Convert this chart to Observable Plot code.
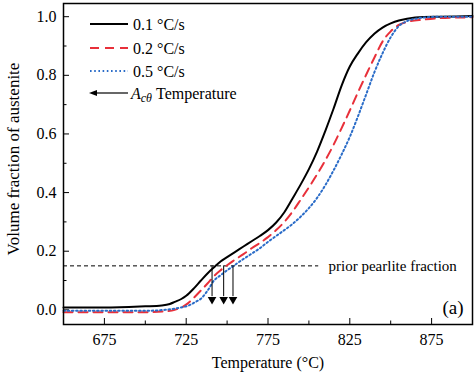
<!DOCTYPE html>
<html>
<head>
<meta charset="utf-8">
<script src="https://cdn.jsdelivr.net/npm/d3@7"></script>
<script src="https://cdn.jsdelivr.net/npm/@observablehq/plot@0.6"></script>
<style>
  html, body { margin: 0; padding: 0; background: white; }
  #wrap { position: relative; width: 474px; height: 380px; }
  #legend { position: absolute; left: 0; top: 0; }
</style>
</head>
<body>
<div id="wrap"></div>
<script>
// ---- data ----
const T1 = [650,670,690,700,710,715,718,722,725,730,734,738,742,746,750,755,760,765,770,775,780,785,790,795,800,805,810,815,820,825,830,835,840,845,850,855,860,870,880,900];
const V1 = [0.008,0.008,0.01,0.012,0.015,0.02,0.027,0.037,0.048,0.075,0.1,0.124,0.145,0.165,0.18,0.198,0.216,0.234,0.252,0.272,0.298,0.333,0.38,0.428,0.48,0.54,0.61,0.685,0.765,0.83,0.875,0.913,0.942,0.963,0.977,0.987,0.993,0.999,1.0,1.002];

const T2 = [650,700,712,718,722,726,730,734,738,742,746,750,754,760,765,770,775,780,785,790,795,800,805,810,815,820,825,830,835,840,845,850,855,860,870,880,900];
const V2 = [-0.008,-0.008,-0.005,0.0,0.008,0.022,0.043,0.066,0.09,0.115,0.135,0.152,0.168,0.19,0.21,0.228,0.248,0.272,0.3,0.335,0.376,0.418,0.462,0.51,0.562,0.62,0.68,0.742,0.802,0.86,0.915,0.95,0.972,0.982,0.99,0.995,0.998];

const T3 = [650,700,712,718,722,727,731,734,738,742,746,750,754,758,764,770,775,780,785,790,795,800,805,810,815,820,825,830,835,840,845,850,855,860,870,880,900];
const V3 = [-0.003,-0.003,0.0,0.004,0.008,0.016,0.028,0.038,0.065,0.1,0.118,0.135,0.15,0.166,0.188,0.21,0.232,0.252,0.272,0.293,0.318,0.347,0.382,0.425,0.475,0.53,0.59,0.66,0.735,0.81,0.875,0.93,0.968,0.985,0.997,1.0,1.0];

const seriesNames = ["0.1 °C/s", "0.2 °C/s", "0.5 °C/s"];
const seriesColors = ["#000000", "#e8303a", "#2a6cc8"];
const seriesDash = [null, "9,6", "1.6,2.6"];

const acTemps = [740.8, 747.9, 753.6];   // Ac0 temperatures (arrows)
const acTop = 0.15;
const acBottom = 0.025;
const pearliteFraction = 0.15;
const pearliteEndT = 806;
const pearliteLabelT = 812;
const pearliteLabel = "prior pearlite fraction";

const xMajor = [675, 725, 775, 825, 875];
const xMinor = [700, 750, 800, 850];
const yMajor = [0, 0.2, 0.4, 0.6, 0.8, 1.0];
const yMinor = [0.1, 0.3, 0.5, 0.7, 0.9];

const xLabel = "Temperature (°C)";
const yLabel = "Volume fraction of austenite";
const panelLabel = "(a)";

// ---- build ----
const rows = [];
[[T1, V1], [T2, V2], [T3, V3]].forEach(([T, V], i) => {
  T.forEach((t, j) => rows.push({t, v: V[j], s: seriesNames[i]}));
});

const W = 474, H = 380;
const mL = 63, mR = 2, mT = 3, mB = 56;
const plotW = W - mL - mR, plotH = H - mT - mB;
const serif = "'Liberation Serif', 'Times New Roman', serif";

const chart = Plot.plot({
  width: W, height: H,
  marginLeft: mL, marginRight: mR, marginTop: mT, marginBottom: mB,
  style: {fontFamily: serif, fontSize: "16px", background: "white", color: "black"},
  x: {domain: [650, 900], ticks: xMajor, tickSize: 0, tickPadding: 9, label: null, tickFormat: d => String(d)},
  y: {domain: [-0.05, 1.045], ticks: yMajor, tickSize: 0, tickPadding: 7, label: null, tickFormat: d3.format(".1f")},
  marks: [
    Plot.tickX(xMajor, {x: d => d, insetTop: plotH - 6, stroke: "black", strokeWidth: 1}),
    Plot.tickX(xMinor, {x: d => d, insetTop: plotH - 3.5, stroke: "black", strokeWidth: 1}),
    Plot.tickY(yMajor, {y: d => d, insetRight: plotW - 6, stroke: "black", strokeWidth: 1}),
    Plot.tickY(yMinor, {y: d => d, insetRight: plotW - 3.5, stroke: "black", strokeWidth: 1}),
    Plot.ruleY([pearliteFraction], {x1: 650, x2: pearliteEndT, stroke: "black", strokeWidth: 1, strokeDasharray: "4,3"}),
    Plot.text([pearliteLabel], {x: pearliteLabelT, y: pearliteFraction, textAnchor: "start", fontSize: 15, fill: "black"}),
    ...seriesNames.map((name, i) => Plot.line(rows.filter(r => r.s === name), {
      x: "t", y: "v", stroke: seriesColors[i], strokeWidth: 2,
      strokeDasharray: seriesDash[i], curve: "monotone-x"
    })),
    Plot.ruleX(acTemps, {x: d => d, y1: acTop, y2: acBottom + 0.02, stroke: "black", strokeWidth: 1}),
    Plot.dot(acTemps, {x: d => d, y: acBottom + 0.01, symbol: "triangle", r: 3.2, rotate: 180, fill: "black", stroke: "none"}),
    Plot.frame({stroke: "black", strokeWidth: 1.5}),
    Plot.text([xLabel], {frameAnchor: "bottom", dy: 43, fontSize: 16, fill: "black"}),
    Plot.text([yLabel], {frameAnchor: "left", textAnchor: "middle", lineAnchor: "middle", dx: -50, dy: -5, rotate: -90, fontSize: 17, fill: "black"}),
    Plot.text([panelLabel], {frameAnchor: "bottom-right", dx: -9, dy: -11, fontSize: 19, fill: "black"})
  ]
});

const wrap = document.getElementById("wrap");
wrap.appendChild(chart);

// ---- legend (overlay) ----
const leg = d3.select(wrap).append("svg").attr("id", "legend")
  .attr("width", W).attr("height", 110)
  .style("font-family", serif).style("font-size", "16px");
const rowY = [24, 48, 71];
seriesNames.forEach((name, i) => {
  leg.append("line").attr("x1", 90).attr("x2", 128).attr("y1", rowY[i]).attr("y2", rowY[i])
    .attr("stroke", seriesColors[i]).attr("stroke-width", 2)
    .attr("stroke-dasharray", seriesDash[i]);
  leg.append("text").attr("x", 133).attr("y", rowY[i] + 5.5).attr("fill", "black").text(name);
});
// arrow entry
leg.append("line").attr("x1", 96).attr("x2", 128).attr("y1", 93).attr("y2", 93).attr("stroke", "black").attr("stroke-width", 1.2);
leg.append("path").attr("d", "M89,93 L97,90 L97,96 Z").attr("fill", "black");
const t = leg.append("text").attr("x", 131).attr("y", 98.5).attr("fill", "black");
t.append("tspan").attr("font-style", "italic").text("A");
t.append("tspan").attr("font-style", "italic").attr("font-size", "12px").attr("dy", 3).text("cθ");
t.append("tspan").attr("dy", -3).text(" Temperature");
</script>
</body>
</html>
